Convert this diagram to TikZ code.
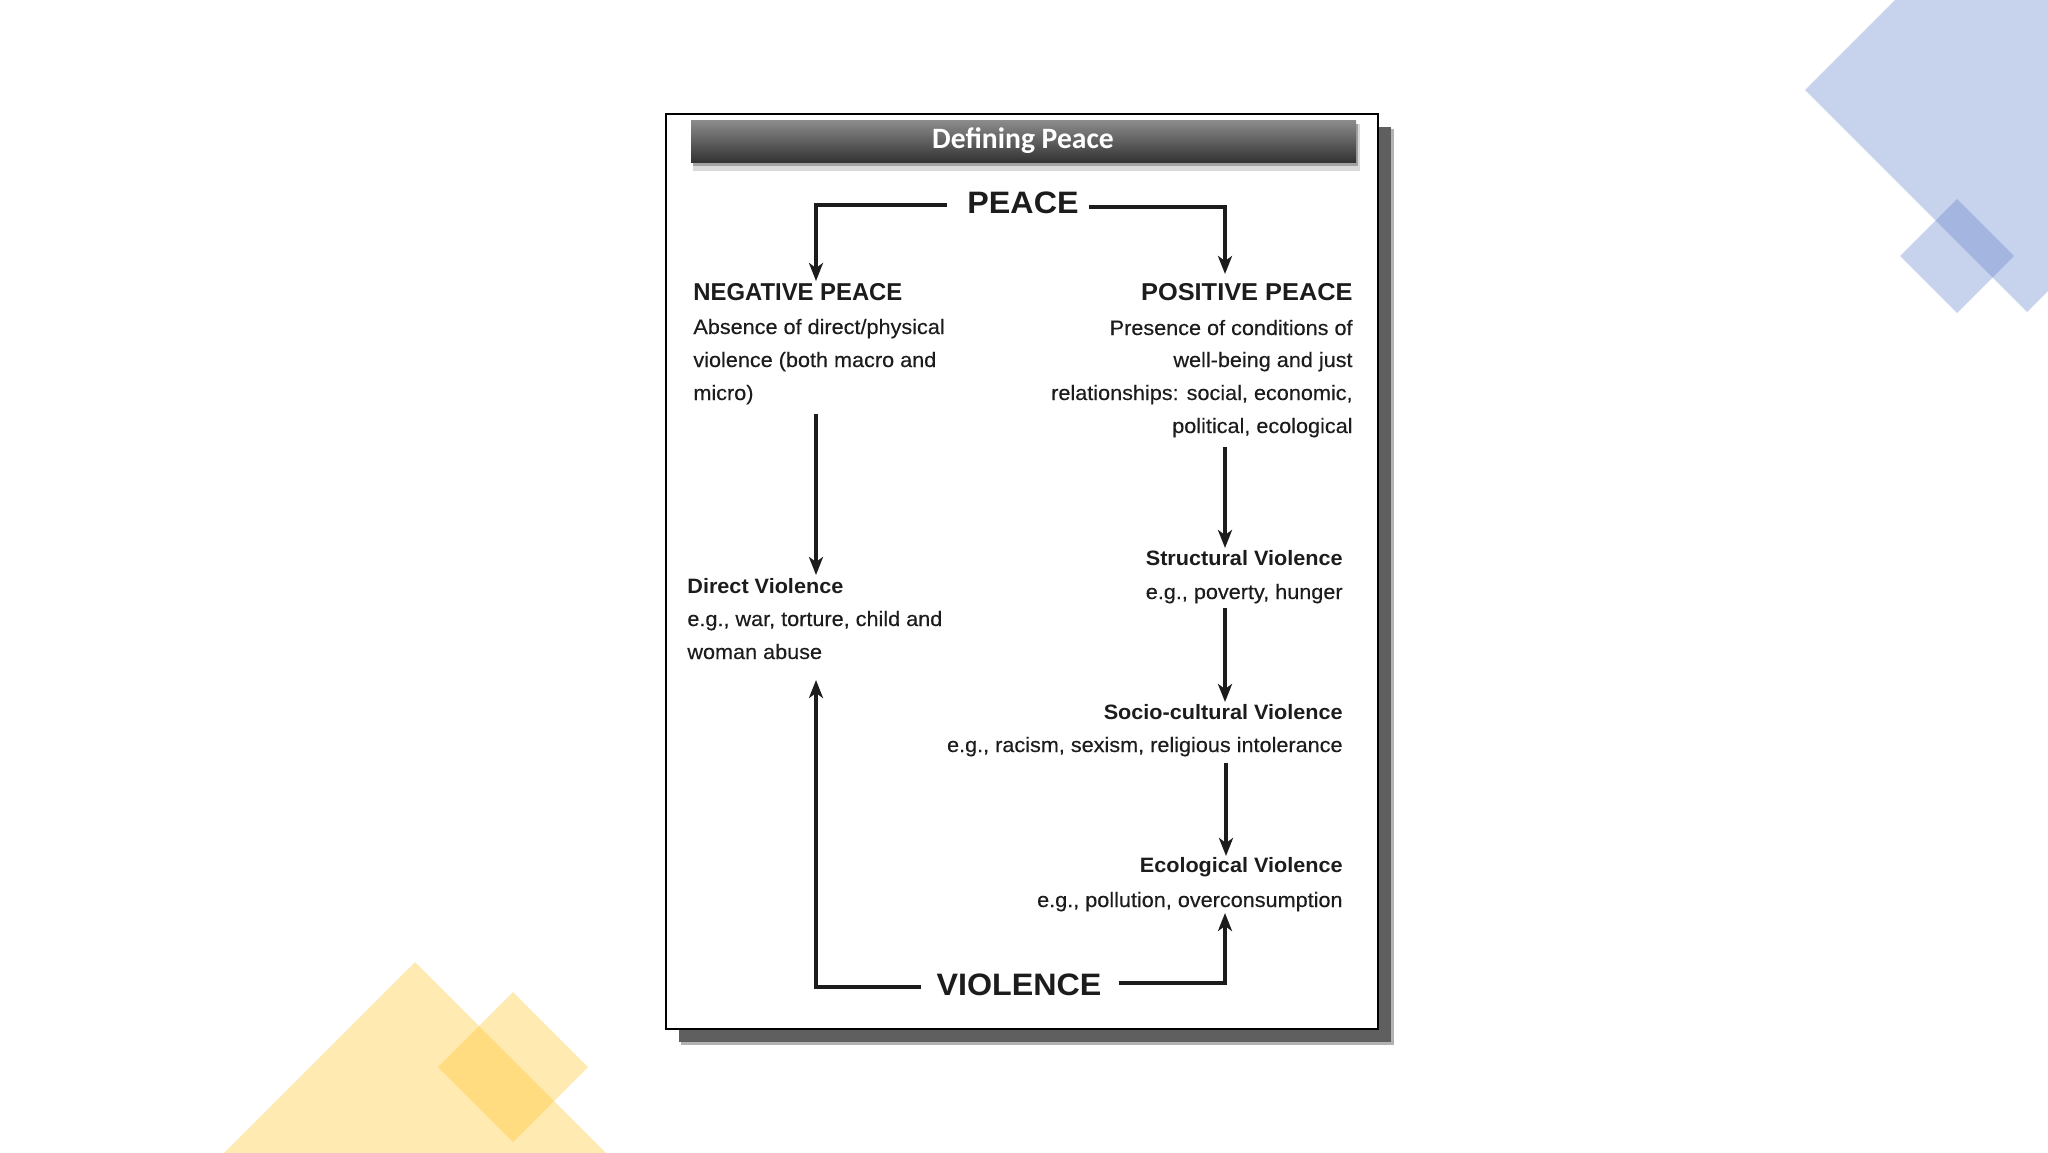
\documentclass[tikz,border=0pt]{standalone}
\usepackage{fontspec}
\setmainfont{Liberation Sans}[FakeStretch=1.04, UprightFeatures={FakeBold=0.3}]
\newfontfamily\titlefont{Carlito}
\usetikzlibrary{arrows.meta}
\definecolor{blueshape}{RGB}{104,134,203}
\definecolor{yellowshape}{RGB}{255,195,35}
\definecolor{linec}{RGB}{28,28,28}
\definecolor{txt}{RGB}{28,28,28}
\definecolor{framesh}{RGB}{95,95,95}
\tikzset{
  conn/.style={line width=1.7pt, draw=linec},
  arr/.style={conn, -{Stealth[length=9pt,width=7pt,inset=2.5pt]}},
  body/.style={font=\fontsize{10.4}{12}\selectfont, text=txt, inner sep=0pt},
  bodyl/.style={body, anchor=base west},
  bodyr/.style={body, anchor=base east},
  subl/.style={bodyl, font=\fontsize{10.4}{12}\selectfont\bfseries},
  subr/.style={bodyr, font=\fontsize{10.4}{12}\selectfont\bfseries},
  head/.style={font=\fontsize{12.2}{14}\selectfont\bfseries, text=txt, inner sep=0pt},
  big/.style={font=\fontsize{15.5}{18}\selectfont\bfseries, text=txt, inner sep=0pt},
}
\begin{document}
\begin{tikzpicture}[x=0.5pt,y=-0.5pt]
\useasboundingbox (0,0) rectangle (2048,1152);
\fill[white] (0,0) rectangle (2048,1152);
% background decoration
\begin{scope}
\clip (0,0) rectangle (2048,1152);
\fill[blueshape, opacity=0.364] (2027,-132) -- (2249,90) -- (2027,312) -- (1805,90) -- cycle;
\fill[blueshape, opacity=0.364] (1957,199) -- (2014,256) -- (1957,313) -- (1900,256) -- cycle;
\fill[yellowshape, opacity=0.35] (415,962) -- (715,1262) -- (415,1562) -- (115,1262) -- cycle;
\fill[yellowshape, opacity=0.35] (513,992) -- (588,1067) -- (513,1142) -- (438,1067) -- cycle;
\end{scope}
% frame with shadow
\fill[black!30] (681,129) rectangle (1394,1045);
\fill[framesh] (679,127) rectangle (1391,1042);
\filldraw[fill=white, draw=black, line width=0.7pt] (666,114) rectangle (1378,1029);
% title bar
\fill[black, opacity=0.15] (693,124) rectangle (1360,171);
\fill[black, opacity=0.25] (693,124) rectangle (1358,166);
\shade[top color=black!45, middle color=black!70, bottom color=black!80] (691,120) rectangle (1356,162);
\node[font=\titlefont\fontsize{14.8}{16}\selectfont\bfseries, text=white, inner sep=0pt] (title) at (1023,141) {Defining Peace};
% main labels
\node[big] (peace) at (1023,203) {PEACE};
\node[big] (violence) at (1019,985) {VIOLENCE};
% negative peace
\node[head, anchor=base west] (neg) at (693,300) {\scalebox{0.94}[1]{NEGATIVE PEACE}};
\node[bodyl] (neg1) at (693,334) {Absence of direct/physical};
\node[bodyl] (neg2) at (693,367) {violence (both macro and};
\node[bodyl] (neg3) at (693,400) {micro)};
% positive peace
\node[head, anchor=base east] (pos) at (1353,300) {POSITIVE PEACE};
\node[bodyr] (pos1) at (1353,335) {Presence of conditions of};
\node[bodyr] (pos2) at (1353,367) {well-being and just};
\node[bodyr] (pos3) at (1353,400) {relationships: social, economic,};
\node[bodyr] (pos4) at (1353,433) {political, ecological};
% direct violence
\node[subl] (direct) at (687,593) {Direct Violence};
\node[bodyl] (direct1) at (687,626) {e.g., war, torture, child and};
\node[bodyl] (direct2) at (687,659) {woman abuse};
% structural
\node[subr] (struct) at (1343,565) {Structural Violence};
\node[bodyr] (struct1) at (1343,599) {e.g., poverty, hunger};
% socio-cultural
\node[subr] (socio) at (1343,719) {Socio-cultural Violence};
\node[bodyr] (socio1) at (1343,752) {e.g., racism, sexism, religious intolerance};
% ecological
\node[subr] (eco) at (1343,872) {Ecological Violence};
\node[bodyr] (eco1) at (1343,907) {e.g., pollution, overconsumption};
% connector ends
\coordinate (negtip) at (816,281);
\coordinate (postip) at (1225,274);
\coordinate (a1s) at (816,414);
\coordinate (a1e) at (816,575);
\coordinate (b1s) at (1225,447);
\coordinate (b1e) at (1225,548);
\coordinate (b2s) at (1225,608);
\coordinate (b2e) at (1225,702);
\coordinate (b3s) at (1226,763);
\coordinate (b3e) at (1226,856);
\coordinate (dtip) at (816,680);
\coordinate (etip) at (1225,913);
% connectors
\draw[arr] ([xshift=-10pt,yshift=-1pt]peace.west) -| (negtip);
\draw[arr] ([xshift=5pt,yshift=-2pt]peace.east) -| (postip);
\draw[arr] (a1s) -- (a1e);
\draw[arr] (b1s) -- (b1e);
\draw[arr] (b2s) -- (b2e);
\draw[arr] (b3s) -- (b3e);
\draw[arr] ([xshift=-7.5pt,yshift=-1pt]violence.west) -| (dtip);
\draw[arr] ([xshift=8.5pt,yshift=1pt]violence.east) -| (etip);
\end{tikzpicture}
\end{document}
